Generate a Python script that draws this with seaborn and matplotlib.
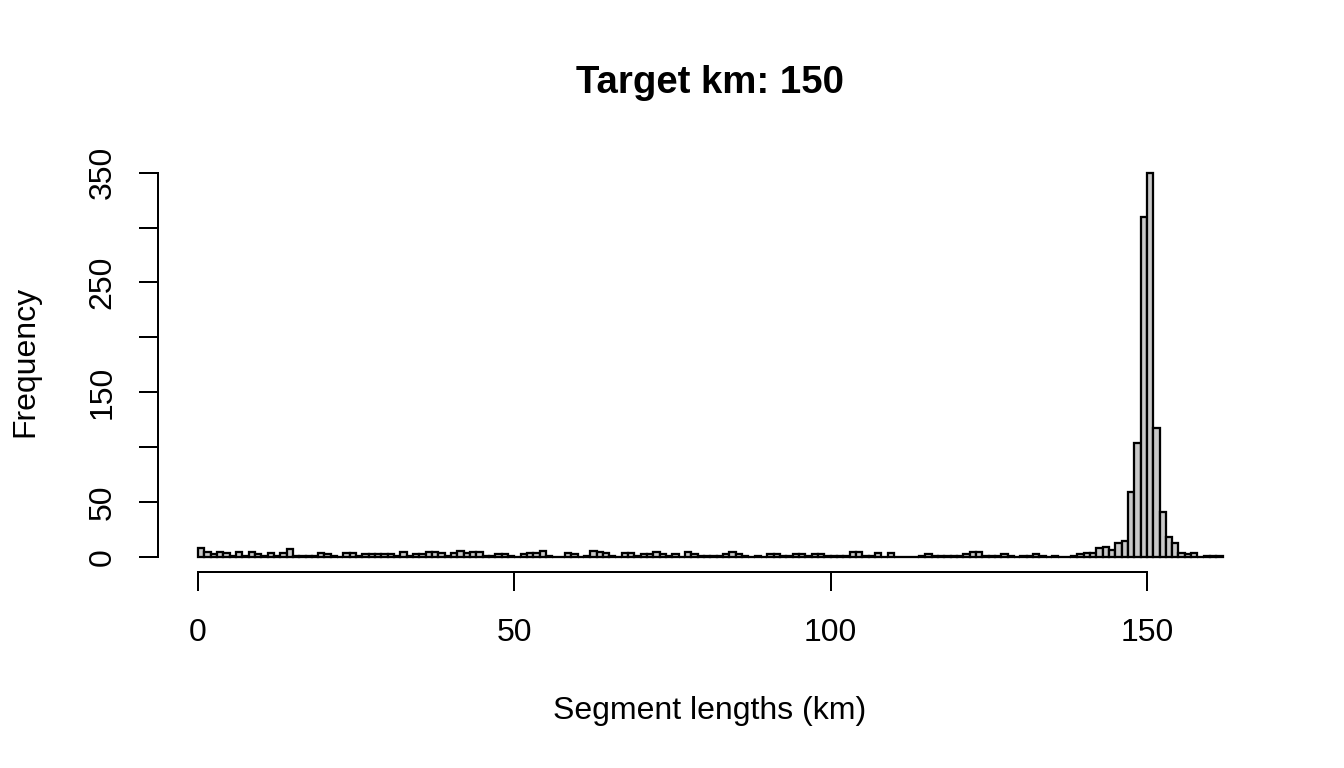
import numpy as np
import seaborn as sns
import matplotlib.pyplot as plt

title = "Target km: 150"
xlabel = "Segment lengths (km)"
ylabel = "Frequency"
xticks = [0, 50, 100, 150]
yticks = [0, 50, 100, 150, 200, 250, 300, 350]
ytick_labels = ["0", "50", "", "150", "", "250", "", "350"]

# counts per 1 km bin
counts_0_49 = [8, 4, 2, 4, 3, 1, 4, 1, 4, 2,
               1, 3, 1, 3, 7, 1, 1, 1, 1, 3,
               2, 1, 0, 3, 3, 1, 2, 2, 2, 2,
               2, 1, 4, 1, 2, 2, 4, 4, 3, 1,
               3, 5, 3, 4, 4, 1, 1, 2, 2, 1]
counts_50_99 = [0, 2, 3, 3, 5, 1, 0, 0, 3, 2,
                0, 1, 5, 4, 3, 1, 0, 3, 3, 1,
                2, 2, 4, 2, 1, 2, 0, 4, 2, 1,
                1, 1, 1, 2, 4, 2, 1, 0, 1, 0,
                2, 2, 1, 1, 2, 2, 1, 2, 2, 1]
counts_100_149 = [1, 1, 1, 4, 4, 1, 1, 3, 0, 3,
                  0, 0, 0, 0, 1, 2, 1, 1, 1, 1,
                  1, 2, 4, 4, 1, 1, 1, 2, 1, 0,
                  1, 1, 2, 1, 0, 1, 0, 0, 1, 2,
                  3, 3, 8, 9, 6, 12, 14, 59, 104, 310]
counts_150_161 = [350, 117, 41, 18, 12, 3, 2, 3, 0, 1, 1, 1]
counts = counts_0_49 + counts_50_99 + counts_100_149 + counts_150_161

bin_start = np.arange(len(counts))

sns.set_theme(style="ticks")
plt.rcParams["font.family"] = ["Liberation Sans", "DejaVu Sans"]

fig = plt.figure(figsize=(7, 4), dpi=192)
ax = fig.add_axes([158 / 1344, (768 - 572) / 768, 1104 / 1344, 414 / 768])

sns.histplot(x=bin_start + 0.5, weights=counts, binwidth=1, binrange=(0, len(counts)),
             color="#C8C8C8", edgecolor="black", linewidth=0.85, alpha=1, ax=ax)

ax.set_xlim(-6.32, 168.2)
ax.set_ylim(-14, 363.5)
ax.set_xticks(xticks)
ax.set_yticks(yticks)
ax.set_yticklabels(ytick_labels, rotation=90, va="center")
ax.tick_params(axis="both", length=7.1, width=0.75, color="black", labelsize=12, labelcolor="black")
ax.tick_params(axis="x", pad=10)
ax.tick_params(axis="y", pad=8)
ax.set_xlabel("")
ax.set_ylabel("")

sns.despine(ax=ax)
ax.spines["left"].set_bounds(0, 350)
ax.spines["bottom"].set_bounds(0, 150)
ax.spines["left"].set_linewidth(0.75)
ax.spines["bottom"].set_linewidth(0.75)
ax.spines["left"].set_color("black")
ax.spines["bottom"].set_color("black")

fig.text(710 / 1344, 1 - 83 / 768, title, ha="center", va="center", fontsize=14.4, fontweight="bold", color="black")
fig.text(710 / 1344, 1 - 711 / 768, xlabel, ha="center", va="center", fontsize=12, color="black")
fig.text(25 / 1344, 1 - 361 / 768, ylabel, ha="center", va="center", rotation=90, fontsize=12, color="black")

fig.savefig("out.png", dpi=192)
plt.close(fig)
